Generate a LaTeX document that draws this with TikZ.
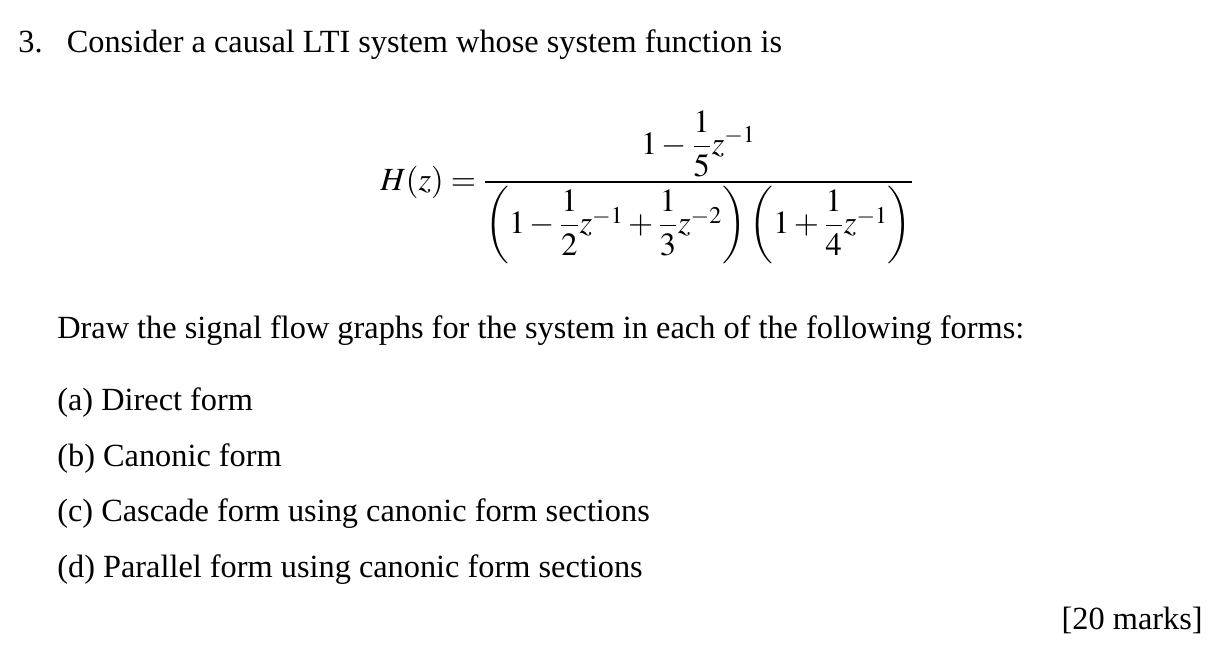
\documentclass[tikz,border=0pt]{standalone}
\usepackage{amsmath}
\usepackage{mathptmx}
\usepackage{fontspec}
\setmainfont{Liberation Serif}
\begin{document}
\begin{tikzpicture}[x=0.02cm,y=-0.02cm,
  txt/.style={anchor=base west,inner sep=0pt,font=\fontsize{18.4}{22}\selectfont}]
\useasboundingbox (0,0) rectangle (1224,664);
\node[txt] (t) at (18,52) {3.\hspace{0.75em}Consider a causal LTI system whose system function is};
\node[txt] (eq) at (380,190) {$\displaystyle H(z)=\frac{1-\dfrac{1}{5}z^{-1}}{\left(1-\dfrac{1}{2}z^{-1}+\dfrac{1}{3}z^{-2}\right)\left(1+\dfrac{1}{4}z^{-1}\right)}$};
\node[txt] (d) at (57,338) {Draw the signal flow graphs for the system in each of the following forms:};
\node[txt] (a) at (57,410) {(a) Direct form};
\node[txt] (b) at (57,466) {(b) Canonic form};
\node[txt] (c) at (57,521) {(c) Cascade form using canonic form sections};
\node[txt] (dd) at (57,577) {(d) Parallel form using canonic form sections};
\node[txt,anchor=base east] (m) at (1203,629) {[20 marks]};
\end{tikzpicture}
\end{document}
